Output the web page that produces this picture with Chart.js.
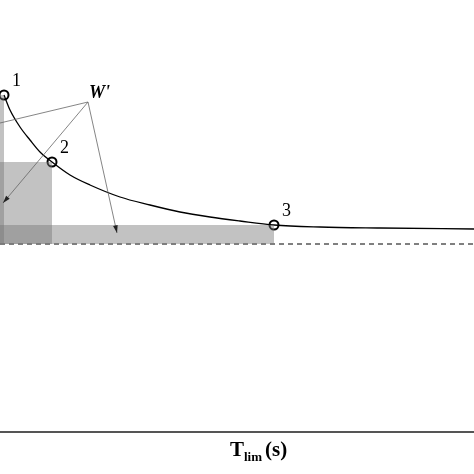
<!DOCTYPE html>
<html><head><meta charset="utf-8">
<script src="https://cdn.jsdelivr.net/npm/chart.js@4"></script>
<style>html,body{margin:0;background:#fff}#wrap{width:474px;height:474px}</style>
</head><body><div id="wrap"><canvas id="c"></canvas></div>
<script>
// curve (time units, power units above axis)
const curveT = [4, 10, 20, 30, 40, 52, 70, 90, 120, 150, 180, 210, 240, 274, 320, 380, 474];
const curveP = [337, 322, 305, 292, 280, 270, 257, 247, 235, 227, 220, 215, 211, 207, 205, 204, 203];
const pointT = [4, 52, 274];
const pointP = [337, 270, 207];
const pointLabels = ['1', '2', '3'];
const criticalPower = 188;
// W' arrows: origin and targets
const wOrigin = [88, 330];
const wTargets = [[0, 309, false], [3, 229, true], [117, 199, true]];

const serif = '"Liberation Serif", "Times New Roman", serif';

const rectDatasets = pointT.map((t, i) => ({
    type: 'line',
    data: [{ x: 0, y: pointP[i] }, { x: t, y: pointP[i] }],
    borderWidth: 0, pointRadius: 0,
    backgroundColor: 'rgba(120,120,120,0.45)',
    fill: { value: criticalPower }
}));

const overlay = {
    id: 'overlay',
    afterDatasetsDraw(chart) {
        const { ctx, scales: { x, y } } = chart;
        ctx.save();
        // bottom axis
        ctx.strokeStyle = '#555'; ctx.lineWidth = 2;
        ctx.beginPath(); ctx.moveTo(0, y.getPixelForValue(0)); ctx.lineTo(474, y.getPixelForValue(0)); ctx.stroke();
        // arrows
        ctx.strokeStyle = '#666'; ctx.fillStyle = '#222'; ctx.lineWidth = 0.8;
        const ox = x.getPixelForValue(wOrigin[0]), oy = y.getPixelForValue(wOrigin[1]);
        wTargets.forEach(([tx, ty, head]) => {
            const px = x.getPixelForValue(tx), py = y.getPixelForValue(ty);
            ctx.beginPath(); ctx.moveTo(ox, oy); ctx.lineTo(px, py); ctx.stroke();
            if (head) {
                const a = Math.atan2(py - oy, px - ox);
                ctx.beginPath(); ctx.moveTo(px, py);
                ctx.lineTo(px - 8 * Math.cos(a - 0.3), py - 8 * Math.sin(a - 0.3));
                ctx.lineTo(px - 8 * Math.cos(a + 0.3), py - 8 * Math.sin(a + 0.3));
                ctx.closePath(); ctx.fill();
            }
        });
        // texts
        ctx.fillStyle = '#000';
        ctx.font = 'bold italic 18px ' + serif;
        ctx.fillText("W'", 89, 98);
        ctx.font = '18px ' + serif;
        pointT.forEach((t, i) => ctx.fillText(pointLabels[i], x.getPixelForValue(t) + 8, y.getPixelForValue(pointP[i]) - 9));
        ctx.font = 'bold 21px ' + serif;
        ctx.fillText('T', 230, 456);
        ctx.font = 'bold 13px ' + serif;
        ctx.fillText('lim', 244, 461);
        ctx.font = 'bold 21px ' + serif;
        ctx.fillText('(s)', 265, 456);
        ctx.restore();
    }
};

new Chart(document.getElementById('c'), {
    type: 'line',
    data: {
        datasets: [
            ...rectDatasets,
            { data: [{ x: 0, y: criticalPower }, { x: 474, y: criticalPower }], borderColor: '#000', borderWidth: 1, borderDash: [5, 4], pointRadius: 0 },
            { data: curveT.map((t, i) => ({ x: t, y: curveP[i] })), borderColor: '#000', borderWidth: 1.3, pointRadius: 0, cubicInterpolationMode: 'monotone' },
            { data: pointT.map((t, i) => ({ x: t, y: pointP[i] })), showLine: false, clip: false, pointRadius: 4.5, pointBorderWidth: 2, pointBorderColor: '#000', pointBackgroundColor: '#fff' }
        ]
    },
    options: {
        responsive: true, maintainAspectRatio: false, animation: false,
        layout: { autoPadding: false, padding: { left: 0, right: 0, top: 0, bottom: 42 } },
        plugins: { legend: { display: false }, tooltip: { enabled: false } },
        scales: {
            x: { type: 'linear', min: 0, max: 474, display: false },
            y: { min: 0, max: 432, display: false }
        }
    },
    plugins: [overlay]
});
</script></body></html>
